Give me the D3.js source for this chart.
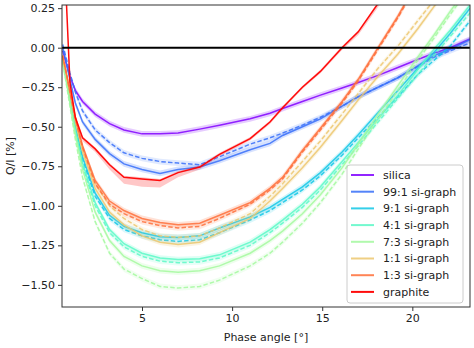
<!DOCTYPE html>
<html>
<head>
<meta charset="utf-8">
<script src="https://cdn.jsdelivr.net/npm/d3@7"></script>
<style>
body { margin: 0; background: #fff; }
text { font-family: "DejaVu Sans", sans-serif; }
</style>
</head>
<body>
<svg id="chart" width="474" height="348"></svg>
<script>
// phase angle grid, degrees
const angles = [0.6, 0.8, 1.0, 1.3, 1.7, 2.4, 3.2, 4.0, 5.0, 6.0, 7.0, 8.2, 9.3, 11.0, 12.1, 12.8, 13.9, 14.9, 16.1, 17.0, 18.1, 19.2, 20.3, 21.2, 22.1, 23.2];

const silica   = [-0.02, -0.10, -0.18, -0.27, -0.34, -0.42, -0.48, -0.52, -0.545, -0.545, -0.54, -0.515, -0.49, -0.45, -0.415, -0.385, -0.34, -0.30, -0.255, -0.22, -0.175, -0.125, -0.075, -0.035, 0.0, 0.055];
const si99     = [0.0, -0.10, -0.20, -0.35, -0.47, -0.58, -0.67, -0.735, -0.77, -0.795, -0.77, -0.755, -0.715, -0.645, -0.605, -0.555, -0.50, -0.45, -0.37, -0.31, -0.25, -0.19, -0.115, -0.05, -0.01, 0.05];
const si99Dash = [0.02, -0.07, -0.16, -0.28, -0.40, -0.52, -0.60, -0.665, -0.70, -0.72, -0.73, -0.74, -0.69, -0.61, -0.57, -0.54, -0.49, -0.44, -0.37, -0.31, -0.25, -0.19, -0.12, -0.06, -0.02, 0.03];
const si91     = [-0.07, -0.19, -0.31, -0.49, -0.69, -0.92, -1.06, -1.13, -1.17, -1.195, -1.2, -1.19, -1.14, -1.07, -1.01, -0.96, -0.88, -0.79, -0.66, -0.55, -0.41, -0.27, -0.13, -0.03, 0.09, 0.25];
const si91Dash = [-0.07, -0.19, -0.32, -0.50, -0.71, -0.94, -1.08, -1.15, -1.19, -1.215, -1.225, -1.215, -1.17, -1.09, -1.03, -0.98, -0.90, -0.81, -0.68, -0.57, -0.44, -0.31, -0.17, -0.08, 0.01, 0.17];
const si41     = [-0.08, -0.20, -0.33, -0.52, -0.73, -0.98, -1.15, -1.24, -1.30, -1.33, -1.34, -1.335, -1.31, -1.23, -1.15, -1.09, -0.99, -0.88, -0.72, -0.60, -0.45, -0.30, -0.14, -0.01, 0.11, 0.27];
const si41Dash = [-0.08, -0.21, -0.34, -0.53, -0.75, -1.0, -1.17, -1.26, -1.32, -1.35, -1.36, -1.355, -1.33, -1.25, -1.17, -1.11, -1.01, -0.90, -0.74, -0.62, -0.47, -0.32, -0.17, -0.05, 0.07, 0.22];
const si73     = [-0.09, -0.21, -0.35, -0.55, -0.77, -1.04, -1.22, -1.32, -1.38, -1.41, -1.42, -1.41, -1.38, -1.30, -1.22, -1.16, -1.05, -0.93, -0.76, -0.61, -0.42, -0.24, -0.06, 0.08, 0.23, 0.40];
const si73Dash = [-0.10, -0.23, -0.37, -0.58, -0.82, -1.10, -1.30, -1.40, -1.46, -1.51, -1.52, -1.51, -1.47, -1.38, -1.30, -1.23, -1.11, -0.98, -0.80, -0.64, -0.45, -0.27, -0.08, 0.06, 0.21, 0.38];
const si11     = [-0.06, -0.17, -0.29, -0.47, -0.66, -0.89, -1.04, -1.12, -1.19, -1.23, -1.245, -1.23, -1.17, -1.08, -0.97, -0.89, -0.76, -0.63, -0.46, -0.33, -0.18, -0.04, 0.12, 0.26, 0.40, 0.57];
const si11Dash = [-0.06, -0.17, -0.28, -0.45, -0.64, -0.86, -1.0, -1.08, -1.15, -1.19, -1.2, -1.19, -1.14, -1.05, -0.94, -0.86, -0.72, -0.59, -0.42, -0.29, -0.13, 0.01, 0.17, 0.30, 0.44, 0.61];
const si13     = [-0.05, -0.16, -0.27, -0.44, -0.62, -0.84, -0.97, -1.03, -1.08, -1.105, -1.12, -1.11, -1.06, -0.98, -0.89, -0.82, -0.65, -0.51, -0.34, -0.20, 0.0, 0.2, 0.42, 0.6, 0.8, 1.0];
const si13Dash = [-0.05, -0.16, -0.28, -0.45, -0.63, -0.86, -0.99, -1.05, -1.10, -1.125, -1.14, -1.13, -1.08, -0.99, -0.90, -0.83, -0.66, -0.52, -0.35, -0.21, -0.01, 0.19, 0.41, 0.59, 0.79, 0.99];
const graphite = [0.8, 0.3, -0.22, -0.44, -0.57, -0.64, -0.74, -0.82, -0.83, -0.84, -0.79, -0.755, -0.675, -0.575, -0.47, -0.38, -0.25, -0.15, 0.0, 0.1, 0.28, 0.5, 0.7, 0.9, 1.1, 1.3];
const graphiteErr = [0.01, 0.01, 0.01, 0.015, 0.02, 0.02, 0.03, 0.04, 0.05, 0.045, 0.03, 0.015, 0.012, 0.012, 0.012, 0.012, 0.012, 0.012, 0.015, 0.02, 0.025, 0.025, 0.025, 0.025, 0.025, 0.025];
const bandErr = 0.018;

const names = ["silica", "99:1 si-graph", "9:1 si-graph", "4:1 si-graph", "7:3 si-graph", "1:1 si-graph", "1:3 si-graph", "graphite"];
const solids = [silica, si99, si91, si41, si73, si11, si13, graphite];
const dashes = [null, si99Dash, si91Dash, si41Dash, si73Dash, si11Dash, si13Dash, null];

const xTicks = [5, 10, 15, 20];
const yTicks = [-1.5, -1.25, -1.0, -0.75, -0.5, -0.25, 0.0, 0.25];

const svg = d3.select("#chart");
const margin = {top: 5, right: 4, bottom: 41, left: 62};
const W = 474, H = 348;

const x = d3.scaleLinear().domain([0.56, 23.2]).range([margin.left, W - margin.right]);
const y = d3.scaleLinear().domain([-1.64, 0.27]).range([H - margin.bottom, margin.top]);
const color = d3.scaleOrdinal().domain(names).range(names.map((d, i) => d3.interpolateRainbow ? rainbow(i / 7) : "#000"));

// matplotlib 'rainbow' colormap
function rainbow(t) {
    const r = Math.min(1, Math.abs(2 * t - 0.5));
    const g = Math.sin(t * Math.PI);
    const b = Math.cos(t * Math.PI / 2);
    return d3.rgb(r * 255, g * 255, b * 255).formatHex();
}

svg.append("defs").append("clipPath").attr("id", "plotclip")
  .append("rect")
    .attr("x", margin.left).attr("y", margin.top)
    .attr("width", W - margin.left - margin.right)
    .attr("height", H - margin.top - margin.bottom);

const plot = svg.append("g").attr("clip-path", "url(#plotclip)");

const line = d3.line()
    .x((d, i) => x(angles[i]))
    .y(d => y(d));

function bandArea(vals, lo, hi) {
    return d3.area()
        .x((d, i) => x(angles[i]))
        .y0((d, i) => y(d - lo(i)))
        .y1((d, i) => y(d + hi(i)))(vals);
}

solids.forEach((vals, k) => {
    const c = color(names[k]);
    const g = plot.append("g");
    if (k === 7) {
        g.append("path")
            .attr("d", bandArea(vals, i => graphiteErr[i], i => 0.01))
            .attr("fill", c).attr("opacity", 0.22);
    } else {
        g.append("path")
            .attr("d", bandArea(vals, () => bandErr, () => bandErr))
            .attr("fill", c).attr("opacity", 0.2);
    }
    if (dashes[k]) {
        g.append("path")
            .attr("d", bandArea(dashes[k], () => bandErr, () => bandErr))
            .attr("fill", c).attr("opacity", 0.15);
        g.append("path")
            .attr("d", line(dashes[k]))
            .attr("fill", "none")
            .attr("stroke", c)
            .attr("stroke-width", 1.5)
            .attr("stroke-dasharray", "4.5,2.2")
            .attr("opacity", 0.85);
    }
    g.append("path")
        .attr("d", line(vals))
        .attr("fill", "none")
        .attr("stroke", c)
        .attr("stroke-width", 1.5)
        .attr("opacity", k === 7 ? 0.95 : 0.85);
});

// zero line
plot.append("line")
    .attr("x1", margin.left).attr("x2", W - margin.right)
    .attr("y1", y(0)).attr("y2", y(0))
    .attr("stroke", "#000").attr("stroke-width", 2);

// axes
svg.append("g")
    .attr("transform", "translate(0," + (H - margin.bottom) + ")")
    .call(d3.axisBottom(x).tickValues(xTicks).tickSize(4).tickPadding(3).tickFormat(d3.format("d")))
    .call(g => g.select(".domain").remove())
    .selectAll("text").attr("font-size", 11).attr("fill", "#222");

svg.append("g")
    .attr("transform", "translate(" + margin.left + ",0)")
    .call(d3.axisLeft(y).tickValues(yTicks).tickSize(4).tickPadding(3).tickFormat(d3.format(".2f")))
    .call(g => g.select(".domain").remove())
    .selectAll("text").attr("font-size", 11).attr("fill", "#222");

svg.selectAll(".tick line").attr("stroke", "#333");

// frame
svg.append("rect")
    .attr("x", margin.left).attr("y", margin.top)
    .attr("width", W - margin.left - margin.right)
    .attr("height", H - margin.top - margin.bottom)
    .attr("fill", "none").attr("stroke", "#333").attr("stroke-width", 1);

svg.append("text")
    .attr("x", (margin.left + W - margin.right) / 2)
    .attr("y", 341)
    .attr("text-anchor", "middle")
    .attr("font-size", 11)
    .attr("fill", "#222")
    .text("Phase angle [°]");

svg.append("text")
    .attr("transform", "translate(14," + ((margin.top + H - margin.bottom) / 2) + ") rotate(-90)")
    .attr("text-anchor", "middle")
    .attr("font-size", 11)
    .attr("fill", "#222")
    .text("Q/I [%]");

// legend
const legend = svg.append("g").attr("transform", "translate(347,165)");
legend.append("rect")
    .attr("width", 116).attr("height", 138)
    .attr("rx", 3)
    .attr("fill", "#fff").attr("fill-opacity", 0.85)
    .attr("stroke", "#ccc");

const item = legend.selectAll(".item")
    .data(names)
  .enter().append("g")
    .attr("class", "item")
    .attr("transform", (d, i) => "translate(0," + (10 + i * 16.7) + ")");

item.append("line")
    .attr("x1", 4).attr("x2", 27)
    .attr("stroke", d => color(d))
    .attr("stroke-width", 2)
    .attr("opacity", (d, i) => i === 7 ? 0.95 : 0.85);

item.append("text")
    .attr("x", 36)
    .attr("dy", "0.35em")
    .attr("font-size", 11)
    .attr("fill", "#222")
    .text(d => d);
</script>
</body>
</html>
